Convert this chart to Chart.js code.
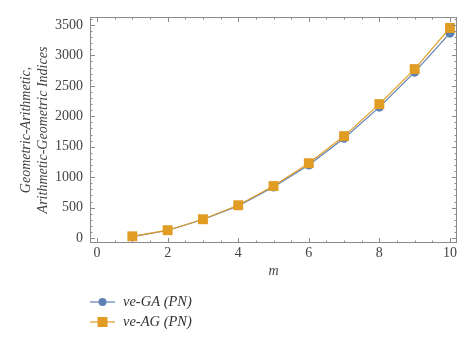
<!DOCTYPE html>
<html>
<head>
<meta charset="utf-8">
<script src="https://cdn.jsdelivr.net/npm/chart.js@4"></script>
<style>
    html, body { margin: 0; padding: 0; background: #ffffff; }
    #wrap { width: 474px; height: 346px; }
</style>
</head>
<body>
<div id="wrap"><canvas id="chart" width="474" height="346"></canvas></div>
<script>
const mValues = [1, 2, 3, 4, 5, 6, 7, 8, 9, 10];
const gaValues = [25, 125, 305, 530, 840, 1200, 1640, 2150, 2725, 3365];
const agValues = [30, 130, 310, 540, 855, 1230, 1675, 2200, 2775, 3450];
const xTicks = [0, 2, 4, 6, 8, 10];
const yTicks = [0, 500, 1000, 1500, 2000, 2500, 3000, 3500];
const seriesNames = ['ve-GA (PN)', 've-AG (PN)'];

const blue = '#5e81b5';
const orange = '#e19c24';
const serif = '"Liberation Serif", "DejaVu Serif", serif';

// Mathematica style frame with inside ticks on all four sides
const frameTicks = {
    id: 'frameTicks',
    afterDatasetsDraw(chart) {
        const {ctx, chartArea: a, scales: {x, y}} = chart;
        ctx.save();
        ctx.strokeStyle = '#8a8a8a';
        ctx.lineWidth = 1;
        ctx.strokeRect(a.left + 0.5, a.top + 0.5, a.right - a.left - 1, a.bottom - a.top - 1);
        ctx.beginPath();
        for (let v = 0; v <= 10.001; v += 0.5) {
            const px = Math.round(x.getPixelForValue(v)) + 0.5;
            const len = Math.abs(v % 2) < 0.001 ? 5 : 2.5;
            ctx.moveTo(px, a.bottom); ctx.lineTo(px, a.bottom - len);
            ctx.moveTo(px, a.top); ctx.lineTo(px, a.top + len);
        }
        for (let v = 0; v <= 3600; v += 100) {
            const py = Math.round(y.getPixelForValue(v)) + 0.5;
            if (py < a.top || py > a.bottom) continue;
            const len = v % 500 === 0 ? 5 : 2.5;
            ctx.moveTo(a.left, py); ctx.lineTo(a.left + len, py);
            ctx.moveTo(a.right, py); ctx.lineTo(a.right - len, py);
        }
        ctx.stroke();
        ctx.restore();
    }
};

// legend below the plot
const bottomLegend = {
    id: 'bottomLegend',
    afterDraw(chart) {
        const ctx = chart.ctx;
        const rows = [302, 322];
        ctx.save();
        chart.data.datasets.forEach((ds, i) => {
            const yy = rows[i];
            ctx.strokeStyle = ds.borderColor;
            ctx.lineWidth = 1.2;
            ctx.beginPath();
            ctx.moveTo(90, yy); ctx.lineTo(115, yy);
            ctx.stroke();
            ctx.fillStyle = ds.backgroundColor;
            ctx.beginPath();
            if (ds.pointStyle === 'rect') {
                ctx.rect(97.5, yy - 5, 10, 10);
            } else {
                ctx.arc(102.5, yy, 4, 0, Math.PI * 2);
            }
            ctx.fill();
            ctx.fillStyle = '#333333';
            ctx.font = 'italic 14.5px ' + serif;
            ctx.textBaseline = 'middle';
            ctx.fillText(ds.label, 123, yy);
        });
        ctx.restore();
    }
};

new Chart(document.getElementById('chart'), {
    type: 'line',
    data: {
        datasets: [
            {
                label: seriesNames[0],
                data: mValues.map((m, i) => ({x: m, y: gaValues[i]})),
                borderColor: blue,
                backgroundColor: blue,
                borderWidth: 1.2,
                pointStyle: 'circle',
                pointRadius: 4.5,
                pointBorderWidth: 0,
                order: 2
            },
            {
                label: seriesNames[1],
                data: mValues.map((m, i) => ({x: m, y: agValues[i]})),
                borderColor: orange,
                backgroundColor: orange,
                borderWidth: 1.2,
                pointStyle: 'rect',
                pointRadius: 7,
                pointBorderWidth: 0,
                order: 1
            }
        ]
    },
    options: {
        responsive: false,
        animation: false,
        layout: {padding: {left: 18, top: 17, right: 17, bottom: 66}},
        plugins: {
            legend: {display: false},
            tooltip: {enabled: false}
        },
        scales: {
            x: {
                type: 'linear',
                min: -0.2,
                max: 10.2,
                afterBuildTicks(scale) {
                    scale.ticks = xTicks.map(v => ({value: v}));
                },
                afterFit(scale) {
                    scale.height = 37;
                },
                grid: {display: false, drawTicks: false},
                border: {display: false},
                ticks: {
                    color: '#444444',
                    padding: 2,
                    maxRotation: 0,
                    font: {family: serif, size: 14},
                    callback: v => String(v)
                },
                title: {
                    display: true,
                    text: 'm',
                    color: '#444444',
                    padding: {top: 0, bottom: 0},
                    font: {family: serif, size: 14, style: 'italic'}
                }
            },
            y: {
                type: 'linear',
                min: -80,
                max: 3630,
                afterBuildTicks(scale) {
                    scale.ticks = yTicks.map(v => ({value: v}));
                },
                afterFit(scale) {
                    scale.width = 72;
                },
                grid: {display: false, drawTicks: false},
                border: {display: false},
                ticks: {
                    color: '#444444',
                    padding: 7,
                    font: {family: serif, size: 14},
                    callback: v => String(v)
                },
                title: {
                    display: true,
                    text: ['Geometric-Arithmetic,', 'Arithmetic-Geometric Indices'],
                    color: '#444444',
                    padding: {top: 0, bottom: 0},
                    font: {family: serif, size: 14, style: 'italic', lineHeight: 1.2}
                }
            }
        }
    },
    plugins: [frameTicks, bottomLegend]
});
</script>
</body>
</html>
